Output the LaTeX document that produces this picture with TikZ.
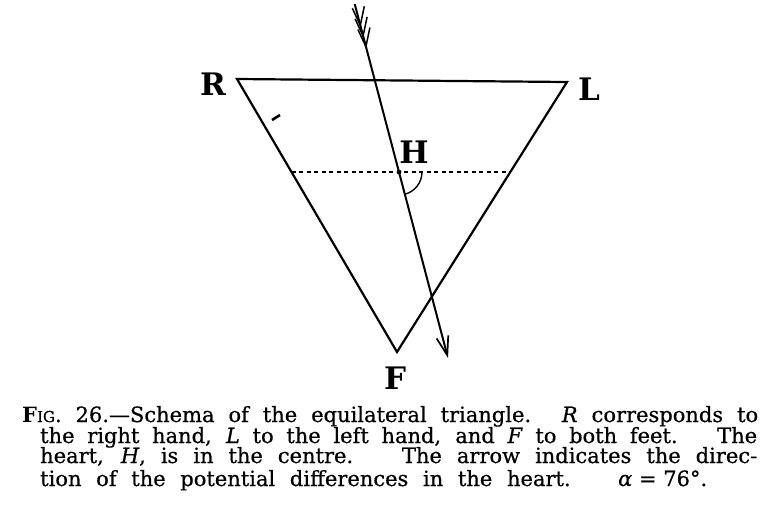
\documentclass[tikz,border=0pt]{standalone}
\usepackage{fontspec}
\setmainfont{DejaVu Serif}
\newfontfamily\capfont{DejaVu Serif}[UprightFeatures={FakeBold=0.6}, ItalicFeatures={FakeBold=0.6}]
\usetikzlibrary{arrows.meta,calc}
\begin{document}
\begin{tikzpicture}[x=1pt,y=-1pt,
  tri/.style={line width=2.2pt, line join=miter},
  lbl/.style={font=\fontsize{31}{31}\bfseries\selectfont, inner sep=0pt},
  captext/.style={anchor=base west, inner sep=0pt, font=\capfont\fontsize{21}{22}\selectfont},
  feather/.style={line width=1.5pt}]
\useasboundingbox (0,0) rectangle (768,512);
% triangle
\coordinate (R) at (237,79);
\coordinate (L) at (567,82);
\coordinate (F) at (397,352);
\draw[tri] (R) -- (L) -- (F) -- cycle;
% dashed line
\coordinate (dl) at (291.5,172);
\coordinate (dr) at (511,172);
\draw[line width=1.1pt, dash pattern=on 4pt off 3.5pt] (dl) -- (dr);
% arrow
\coordinate (H) at (399,172);
\coordinate (tail) at (354.7,4);
\coordinate (head) at (448,358);
\draw[line width=2pt, -{Straight Barb[length=19pt,width=12pt,line width=1.7pt]}] (tail) -- (head);
% fletching
\foreach \s in {22,33,44}{
  \coordinate (p) at ($(tail)!\s pt!(head)$);
  \draw[feather] (p) -- ++(4,-19);
  \draw[feather] (p) -- ++(-8,-17);
}
\fill (H) circle (2.4pt);
\draw[line width=1.4pt] ($(H)+(75:23)$) arc[start angle=75, end angle=0, radius=23];
% small mark
\coordinate (m1) at (272,120);
\coordinate (m2) at (280,115);
\draw[line width=2.6pt] (m1) -- (m2);
% labels
\node[lbl] (lR) at (213,84) {R};
\node[lbl] (lL) at (589,89) {L};
\node[lbl] (lH) at (414,152) {H};
\node[lbl] (lF) at (395,378) {F};
% caption
\node[captext] (c1) at (22,422) {\makebox[736pt][s]{\textbf{F}{\fontsize{15}{15}\selectfont IG}. 26.—Schema of the equilateral triangle. \textit{R} corresponds to}};
\node[captext] (c2) at (40,443) {\makebox[717pt][s]{the right hand, \textit{L} to the left hand, and \textit{F} to both feet. \ The}};
\node[captext] (c3) at (40,463) {\makebox[717pt][s]{heart, \textit{H}, is in the centre. \ The arrow indicates the direc-}};
\node[captext] (c4) at (40,486) {\makebox[667pt][s]{tion of the potential differences in the heart. \ \mbox{\textit{α} = 76°.}}};
\end{tikzpicture}
\end{document}
